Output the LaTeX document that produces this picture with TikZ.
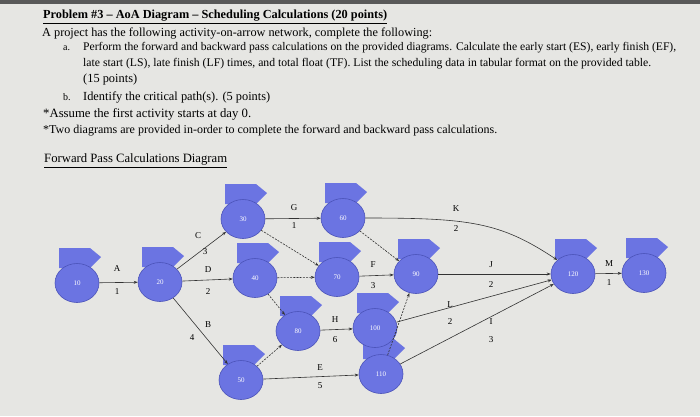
\documentclass[tikz,border=0pt]{standalone}
\usepackage{fontspec}
\setmainfont{Liberation Serif}
\usetikzlibrary{arrows.meta,shapes.geometric}
\definecolor{nodefill}{HTML}{6B74E2}
\definecolor{nodeline}{HTML}{4A52B8}
\definecolor{bg}{HTML}{E6E6E3}
\begin{document}
\begin{tikzpicture}[x=1pt,y=-1pt,
  ev/.style={ellipse,draw=nodeline,fill=nodefill,line width=0.6pt,minimum width=44pt,minimum height=39pt,inner sep=0pt,text=white,font=\fontsize{7}{8}\selectfont},
  act/.style={draw=black!80,line width=0.6pt,-{Stealth[length=4pt,width=3pt]}},
  dum/.style={act,dashed,dash pattern=on 2pt off 1.2pt},
  lbl/.style={font=\fontsize{9}{10}\selectfont,inner sep=1pt},
  txt/.style={anchor=west,inner sep=0pt,font=\fontsize{10}{12}\selectfont}]
\useasboundingbox (0,0) rectangle (700,416);
\fill[bg] (0,0) rectangle (700,416);
\fill[black!65] (0,0) rectangle (700,4);
% text
\node[txt] (t1) at (43,17) {\resizebox{344pt}{!}{\textbf{\underline{Problem \#3 -- AoA Diagram -- Scheduling Calculations (20 points)}}}};
\node[txt] (t2) at (42,33) {\resizebox{390pt}{!}{A project has the following activity-on-arrow network, complete the following:}};
\node[txt] (t3a) at (63,48) {a.};
\node[txt] (t3) at (83,48) {\resizebox{593pt}{!}{Perform the forward and backward pass calculations on the provided diagrams. Calculate the early start (ES), early finish (EF),}};
\node[txt] (t4) at (83,64) {\resizebox{568pt}{!}{late start (LS), late finish (LF) times, and total float (TF). List the scheduling data in tabular format on the provided table.}};
\node[txt] (t5) at (83,80) {\resizebox{54pt}{!}{(15 points)}};
\node[txt] (t6a) at (63,97) {b.};
\node[txt] (t6) at (83,97) {\resizebox{187pt}{!}{Identify the critical path(s). (5 points)}};
\node[txt] (t7) at (43,114) {\resizebox{208pt}{!}{*Assume the first activity starts at day 0.}};
\node[txt] (t8) at (43,131) {\resizebox{454pt}{!}{*Two diagrams are provided in-order to complete the forward and backward pass calculations.}};
\node[txt] (t9) at (44,161) {\resizebox{183pt}{!}{\underline{Forward Pass Calculations Diagram}}};
% tags
\foreach \x/\y in {77/283,160/282,243/219,255/278,241/380,343/218,337/277,298/331,375/328,381/374,416/274,573/274,644/273}{
  \fill[nodefill] (\x-18,\y-35) -- (\x+13,\y-35) -- (\x+24,\y-26) -- (\x+13,\y-15) -- (\x-18,\y-15) -- cycle;
}
% events
\node[ev] (n10) at (77,283) {10};
\node[ev] (n20) at (160,282) {20};
\node[ev] (n30) at (243,219) {30};
\node[ev] (n40) at (255,278) {40};
\node[ev] (n50) at (241,380) {50};
\node[ev] (n60) at (343,218) {60};
\node[ev] (n70) at (337,277) {70};
\node[ev] (n80) at (298,331) {80};
\node[ev] (n100) at (375,328) {100};
\node[ev] (n110) at (381,374) {110};
\node[ev] (n90) at (416,274) {90};
\node[ev] (n120) at (573,274) {120};
\node[ev] (n130) at (644,273) {130};
% activities
\draw[act] (n10) -- (n20);
\draw[act] (n20) -- (n30);
\draw[act] (n20) -- (n40);
\draw[act] (n20) -- (n50);
\draw[act] (n30) -- (n60);
\draw[act] (n70) -- (n90);
\draw[act] (n80) -- (n100);
\draw[act] (n50) -- (n110);
\draw[act] (n90) -- (n120);
\draw[act] (n100) -- (n120);
\draw[act] (n110) -- (n120);
\draw[act] (n120) -- (n130);
\draw[act] (n60.east) .. controls (470,218) and (500,222) .. (n120.north west);
\draw[dum] (n30) -- (n70);
\draw[dum] (n40) -- (n70);
\draw[dum] (n40) -- (n80);
\draw[dum] (n50) -- (n80);
\draw[dum] (n60) -- (n90);
\draw[dum] (n110) -- (n90);
% labels
\node[lbl] (lA) at (117,269) {A}; \node[lbl] (lA1) at (117,292) {1};
\node[lbl] (lC) at (198,236) {C}; \node[lbl] (lC1) at (205,252) {3};
\node[lbl] (lD) at (208,270) {D}; \node[lbl] (lD1) at (208,292) {2};
\node[lbl] (lB) at (208,325) {B}; \node[lbl] (lB1) at (192,338) {4};
\node[lbl] (lG) at (294,208) {G}; \node[lbl] (lG1) at (294,226) {1};
\node[lbl] (lF) at (373,265) {F}; \node[lbl] (lF1) at (373,286) {3};
\node[lbl] (lH) at (335,320) {H}; \node[lbl] (lH1) at (335,340) {6};
\node[lbl] (lE) at (320,368) {E}; \node[lbl] (lE1) at (320,386) {5};
\node[lbl] (lK) at (456,209) {K}; \node[lbl] (lK1) at (456,229) {2};
\node[lbl] (lJ) at (491,265) {J}; \node[lbl] (lJ1) at (491,285) {2};
\node[lbl] (lL) at (450,305) {L}; \node[lbl] (lL1) at (450,322) {2};
\node[lbl] (lI) at (491,322) {I}; \node[lbl] (lI1) at (491,340) {3};
\node[lbl] (lM) at (609,264) {M}; \node[lbl] (lM1) at (609,283) {1};
\end{tikzpicture}
\end{document}
